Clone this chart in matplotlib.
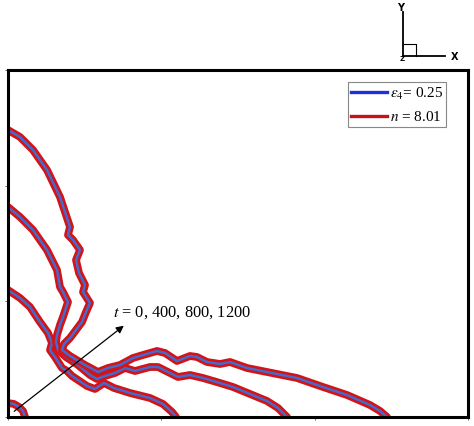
import numpy as np
import matplotlib
matplotlib.use("Agg")
import matplotlib.pyplot as plt
from matplotlib.lines import Line2D

plt.rcParams["font.family"] = ["Liberation Serif", "DejaVu Serif"]
plt.rcParams["mathtext.fontset"] = "stix"

# interface contours (x right, y up, axis box = 460 x 347)
times = [0, 400, 800, 1200]

x_t0 = [0, 6, 11, 15, 17]
y_t0 = [14, 13, 10, 6, 0]

x_t400 = [0, 12, 22, 32, 40, 44, 42, 47, 54, 59, 64, 79, 87, 96, 106, 122, 142, 155, 164, 168]
y_t400 = [127, 119, 110, 95, 84, 74, 67, 60, 49, 46, 41, 31, 28, 34, 29, 24, 19, 13, 5, 0]

x_t800 = [0, 12, 25, 39, 49, 52, 55, 60, 58, 55, 52, 49, 48, 50, 58, 70, 82, 89, 97, 107,
          117, 127, 142, 150, 162, 170, 182, 195, 212, 225, 242, 259, 270, 279]
y_t800 = [210, 200, 187, 167, 147, 130, 125, 115, 109, 100, 92, 82, 75, 67, 60, 52, 42, 38, 41, 44,
          49, 46, 50, 50, 44, 40, 42, 39, 34, 30, 23, 16, 9, 0]

x_t1200 = [0, 12, 25, 39, 52, 62, 60, 65, 72, 68, 71, 77, 75, 82, 78, 74, 68, 62, 56, 54,
           62, 77, 90, 100, 112, 125, 135, 149, 157, 169, 182, 189, 199, 212, 222, 239, 259,
           289, 315, 339, 362, 372, 379]
y_t1200 = [287, 280, 267, 247, 220, 190, 182, 177, 167, 157, 144, 132, 125, 114, 105, 95, 87, 79, 73, 67,
           61, 52, 45, 49, 52, 59, 62, 66, 64, 56, 61, 60, 55, 53, 55, 49, 45,
           39, 30, 22, 12, 6, 0]

curves_x = [x_t0, x_t400, x_t800, x_t1200]
curves_y = [y_t0, y_t400, y_t800, y_t1200]

red = "#d31417"
blue = "#4569cc"

fig = plt.figure(figsize=(4.74, 4.26), dpi=100)
ax = fig.add_axes([8 / 474, 9 / 426, 460 / 474, 347 / 426])

for cx, cy in zip(curves_x, curves_y):
    ax.plot(cx, cy, color=red, lw=5.6, solid_capstyle="round", solid_joinstyle="round")
    ax.plot(cx, cy, color=blue, lw=1.8, solid_capstyle="round", solid_joinstyle="round")

ax.set_xlim(0, 460)
ax.set_ylim(0, 347)
ax.set_xticks(np.linspace(0, 460, 4))
ax.set_yticks(np.linspace(0, 347, 4))
ax.tick_params(direction="out", length=2.5, width=0.6, color="#555555",
               labelbottom=False, labelleft=False)
for side in ax.spines.values():
    side.set_linewidth(2.2)
    side.set_color("black")

# arrow + label for the time levels
ax.annotate("", xy=(118, 93), xytext=(4, 4),
            arrowprops=dict(arrowstyle="-|>", lw=0.9, color="black", mutation_scale=11))
ax.text(105, 104, r"$t$ = 0, 400, 800, 1200", fontsize=11.8, va="center", ha="left")

# legend
handles = [Line2D([0], [0], color="#1f2fe0", lw=2.4),
           Line2D([0], [0], color="#c8101a", lw=2.4)]
labels = [r"$\varepsilon_4$= 0.25", r"$n$ = 8.01"]
leg = ax.legend(handles, labels, loc="upper right", bbox_to_anchor=(0.952, 0.964),
                fontsize=11, handlelength=2.4, handletextpad=0.15, labelspacing=0.55,
                borderpad=0.2, borderaxespad=0.0, fancybox=False, framealpha=1)
leg.get_frame().set_edgecolor("#888888")
leg.get_frame().set_linewidth(0.8)

# small coordinate triad above the box
tri = fig.add_axes([395 / 474, 360 / 426, 70 / 474, 66 / 426])
tri.set_xlim(0, 70)
tri.set_ylim(0, 66)
tri.axis("off")
tri.plot([8, 8], [10, 54], color="black", lw=1.3)
tri.plot([8, 50], [10, 10], color="black", lw=1.3)
tri.plot([8, 21, 21], [22, 22, 10], color="black", lw=0.8)
tri.text(6, 58, "Y", fontsize=7, fontweight="bold", family="DejaVu Sans", ha="center", va="center")
tri.text(60, 9, "X", fontsize=7, fontweight="bold", family="DejaVu Sans", ha="center", va="center")
tri.text(7, 7, "Z", fontsize=5, fontweight="bold", family="DejaVu Sans", ha="center", va="center")

fig.savefig("out.png", dpi=100)
